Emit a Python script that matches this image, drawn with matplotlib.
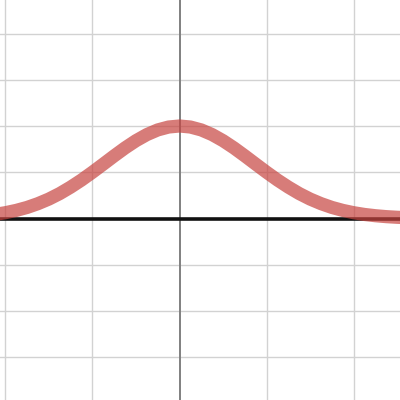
import matplotlib
matplotlib.use("Agg")
import matplotlib.pyplot as plt

# Curve samples (x in grid units, y in grid units)
x_vals = [-2.25, -2.125, -2.0, -1.875, -1.75, -1.625, -1.5, -1.375, -1.25, -1.125,
          -1.0, -0.875, -0.75, -0.625, -0.5, -0.375, -0.25, -0.125, 0.0,
          0.125, 0.25, 0.375, 0.5, 0.625, 0.75, 0.875, 1.0, 1.125, 1.25, 1.375,
          1.5, 1.625, 1.75, 1.875, 2.0, 2.125, 2.25, 2.375, 2.5, 2.625, 2.75]
y_vals = [0.060, 0.087, 0.125, 0.175, 0.239, 0.321, 0.420, 0.539, 0.678, 0.832,
          1.000, 1.176, 1.354, 1.526, 1.682, 1.814, 1.915, 1.978, 2.000,
          1.978, 1.915, 1.814, 1.682, 1.526, 1.354, 1.176, 1.000, 0.832, 0.678, 0.539,
          0.420, 0.321, 0.239, 0.175, 0.125, 0.087, 0.060, 0.040, 0.026, 0.017, 0.011]

# Black horizontal line y = 0
base_x = [-3, 3]
base_y = [0, 0]

x_grid = [-2, -1, 1, 2]
y_grid = [-3, -2, -1, 1, 2, 3, 4]

fig = plt.figure(figsize=(4, 4), dpi=100)
ax = fig.add_axes([0, 0, 1, 1])
ax.set_xlim(-179.5 / 87.1, 220.5 / 87.1)
ax.set_ylim(-181.5 / 46.25, 218.5 / 46.25)
for s in ax.spines.values():
    s.set_visible(False)
ax.set_xticks([])
ax.set_yticks([])

for gx in x_grid:
    ax.axvline(gx, color="#d2d2d2", lw=1.0, zorder=1)
for gy in y_grid:
    ax.axhline(gy, color="#d2d2d2", lw=1.0, zorder=1)
ax.axvline(0, color="#808080", lw=1.4, zorder=2)
ax.axhline(0, color="#808080", lw=1.4, zorder=2)

ax.plot(base_x, base_y, color="#111111", lw=2.6, zorder=3, solid_capstyle="butt")
ax.plot(x_vals, y_vals, color="#c74440", alpha=0.7, lw=9.5, zorder=4,
        solid_capstyle="round", solid_joinstyle="round")

fig.savefig("out.png", dpi=100)
